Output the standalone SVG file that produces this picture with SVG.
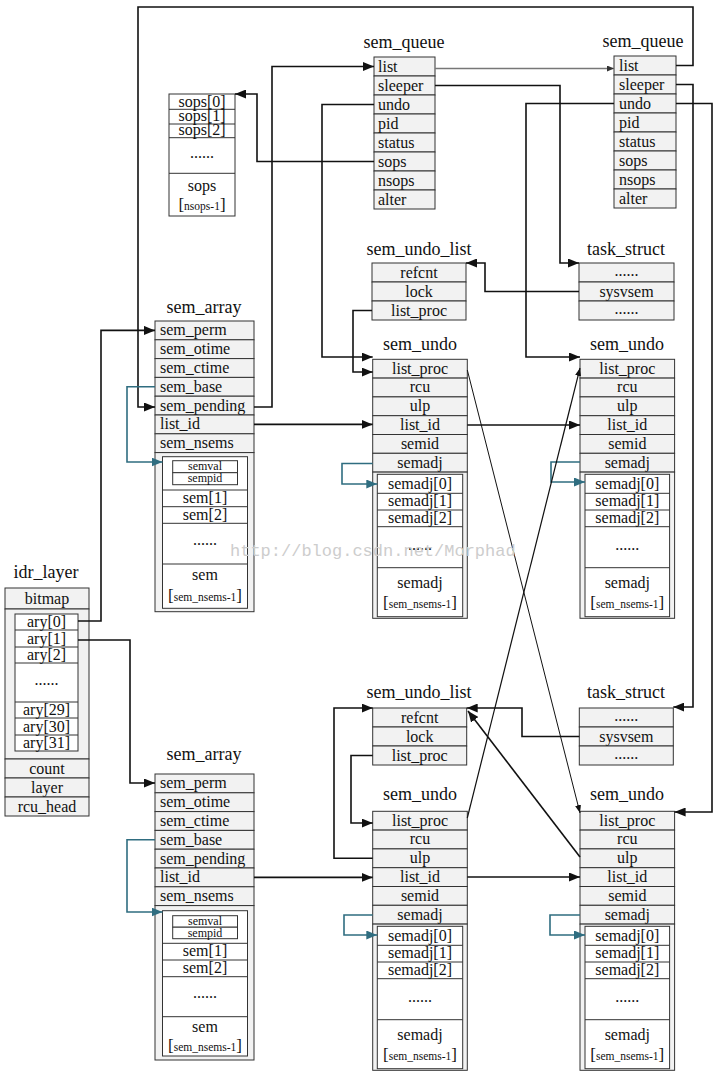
<svg xmlns="http://www.w3.org/2000/svg" width="720" height="1075" viewBox="0 0 720 1075" font-family="'Liberation Serif', serif">
<style>
.f{fill:#f2f2f2;stroke:#333;stroke-width:1}
.w{fill:#fff;stroke:#333;stroke-width:1}
.ln{fill:none;stroke:#333;stroke-width:1}
text{font-family:"Liberation Serif","Times New Roman",serif;font-size:16px;fill:#111}
.c{text-anchor:middle}
.h{font-size:18px}
.s{font-size:11.5px}
.v{font-size:12px}
.b{font-size:17px}
.k{fill:none;stroke:#111;stroke-width:1.6}
.t1{fill:none;stroke:#111;stroke-width:1}
.bl{fill:none;stroke:#2f6d80;stroke-width:1.6}
.g{fill:none;stroke:#777;stroke-width:1.3}
.wm{font-family:"Liberation Mono",monospace;font-size:17px;fill:#cdcdcd}
</style>
<defs>
<marker id="a" markerWidth="11" markerHeight="9" refX="11" refY="4.5" orient="auto" markerUnits="userSpaceOnUse"><path d="M0,0 L11,4.5 L0,9 z" fill="#111"/></marker>
<marker id="as" markerWidth="8" markerHeight="6" refX="8" refY="3" orient="auto" markerUnits="userSpaceOnUse"><path d="M0,0 L8,3 L0,6 z" fill="#111"/></marker>
<marker id="ab" markerWidth="11" markerHeight="9" refX="11" refY="4.5" orient="auto" markerUnits="userSpaceOnUse"><path d="M0,0 L11,4.5 L0,9 z" fill="#2f6d80"/></marker>
<marker id="ag" markerWidth="7" markerHeight="6" refX="7" refY="3" orient="auto" markerUnits="userSpaceOnUse"><path d="M0,0 L7,3 L0,6 z" fill="#333"/></marker>
</defs>

<!-- sem_queue 1 -->
<g id="sem_queue_1">
<text class="h c" x="404" y="48">sem_queue</text>
<rect class="f" x="374" y="57" width="61" height="19"/><text x="378" y="71.5">list</text>
<rect class="f" x="374" y="76" width="61" height="19"/><text x="378" y="90.5">sleeper</text>
<rect class="f" x="374" y="95" width="61" height="19"/><text x="378" y="109.5">undo</text>
<rect class="f" x="374" y="114" width="61" height="19"/><text x="378" y="128.5">pid</text>
<rect class="f" x="374" y="133" width="61" height="19"/><text x="378" y="147.5">status</text>
<rect class="f" x="374" y="152" width="61" height="19"/><text x="378" y="166.5">sops</text>
<rect class="f" x="374" y="171" width="61" height="19"/><text x="378" y="185.5">nsops</text>
<rect class="f" x="374" y="190" width="61" height="19"/><text x="378" y="204.5">alter</text>
</g>

<!-- sem_queue 2 -->
<g id="sem_queue_2">
<text class="h c" x="643" y="47">sem_queue</text>
<rect class="f" x="614" y="56" width="62" height="19"/><text x="619" y="70.5">list</text>
<rect class="f" x="614" y="75" width="62" height="19"/><text x="619" y="89.5">sleeper</text>
<rect class="f" x="614" y="94" width="62" height="19"/><text x="619" y="108.5">undo</text>
<rect class="f" x="614" y="113" width="62" height="19"/><text x="619" y="127.5">pid</text>
<rect class="f" x="614" y="132" width="62" height="19"/><text x="619" y="146.5">status</text>
<rect class="f" x="614" y="151" width="62" height="19"/><text x="619" y="165.5">sops</text>
<rect class="f" x="614" y="170" width="62" height="19"/><text x="619" y="184.5">nsops</text>
<rect class="f" x="614" y="189" width="62" height="19"/><text x="619" y="203.5">alter</text>
</g>

<!-- sops array -->
<g id="sops">
<rect class="w" x="169" y="94" width="66" height="122"/>
<line class="ln" x1="169" y1="109.3" x2="235" y2="109.3"/>
<line class="ln" x1="169" y1="124" x2="235" y2="124"/>
<line class="ln" x1="169" y1="137.7" x2="235" y2="137.7"/>
<line class="ln" x1="169" y1="173.3" x2="235" y2="173.3"/>
<text class="c" x="202" y="106.5">sops[0]</text>
<text class="c" x="202" y="121">sops[1]</text>
<text class="c" x="202" y="135">sops[2]</text>
<text class="c" x="202" y="158">......</text>
<text class="c" x="202" y="191">sops</text>
<text class="c" x="202" y="210"><tspan class="b">[</tspan><tspan class="s">nsops-1</tspan><tspan class="b">]</tspan></text>
</g>

<!-- sem_undo_list top -->
<g id="sem_undo_list_1">
<text class="h c" x="419" y="255">sem_undo_list</text>
<rect class="f" x="372" y="263" width="94" height="19"/><text class="c" x="419" y="277.5">refcnt</text>
<rect class="f" x="372" y="282" width="94" height="19"/><text class="c" x="419" y="296.5">lock</text>
<rect class="f" x="372" y="301" width="94" height="19"/><text class="c" x="419" y="315.5">list_proc</text>
</g>

<!-- task_struct top -->
<g id="task_struct_1">
<text class="h c" x="626" y="255">task_struct</text>
<rect class="f" x="579" y="263" width="95" height="19"/><text class="c" x="626.5" y="276">......</text>
<rect class="f" x="579" y="282" width="95" height="19"/><text class="c" x="626.5" y="296.5">sysvsem</text>
<rect class="f" x="579" y="301" width="95" height="19"/><text class="c" x="626.5" y="314">......</text>
</g>

<!-- sem_array top -->
<g id="sem_array_1">
<text class="h c" x="204" y="313">sem_array</text>
<rect class="f" x="155" y="321" width="99" height="18.8"/><text x="160" y="335.3">sem_perm</text>
<rect class="f" x="155" y="339.8" width="99" height="18.8"/><text x="160" y="354.1">sem_otime</text>
<rect class="f" x="155" y="358.6" width="99" height="18.8"/><text x="160" y="372.9">sem_ctime</text>
<rect class="f" x="155" y="377.4" width="99" height="18.8"/><text x="160" y="391.7">sem_base</text>
<rect class="f" x="155" y="396.2" width="99" height="18.8"/><text x="160" y="410.5">sem_pending</text>
<rect class="f" x="155" y="415" width="99" height="18.8"/><text x="160" y="429.3">list_id</text>
<rect class="f" x="155" y="433.8" width="99" height="18.8"/><text x="160" y="448.1">sem_nsems</text>
<rect class="f" x="155" y="452.6" width="99" height="159.1"/>
<rect class="w" x="162.5" y="456.7" width="85" height="151.6"/>
<line class="ln" x1="162.5" y1="490" x2="247.5" y2="490"/>
<line class="ln" x1="162.5" y1="506.7" x2="247.5" y2="506.7"/>
<line class="ln" x1="162.5" y1="523.3" x2="247.5" y2="523.3"/>
<line class="ln" x1="162.5" y1="564" x2="247.5" y2="564"/>
<rect class="w" x="172.7" y="460.7" width="64.8" height="12"/>
<rect class="w" x="172.7" y="472.7" width="64.8" height="12"/>
<text class="v c" x="205" y="470.3">semval</text>
<text class="v c" x="205" y="482.3">sempid</text>
<text class="c" x="205" y="503">sem[1]</text>
<text class="c" x="205" y="519.5">sem[2]</text>
<text class="c" x="205" y="545">......</text>
<text class="c" x="205" y="580">sem</text>
<text class="c" x="205" y="601"><tspan class="b">[</tspan><tspan class="s">sem_nsems-1</tspan><tspan class="b">]</tspan></text>
</g>

<!-- sem_undo top middle -->
<g id="sem_undo_1">
<text class="h c" x="420" y="350">sem_undo</text>
<rect class="f" x="372.7" y="359.3" width="94.6" height="18.8"/><text class="c" x="420" y="373.6">list_proc</text>
<rect class="f" x="372.7" y="378.1" width="94.6" height="18.8"/><text class="c" x="420" y="392.4">rcu</text>
<rect class="f" x="372.7" y="396.9" width="94.6" height="18.8"/><text class="c" x="420" y="411.2">ulp</text>
<rect class="f" x="372.7" y="415.7" width="94.6" height="18.8"/><text class="c" x="420" y="430">list_id</text>
<rect class="f" x="372.7" y="434.5" width="94.6" height="18.8"/><text class="c" x="420" y="448.8">semid</text>
<rect class="f" x="372.7" y="453.3" width="94.6" height="18.8"/><text class="c" x="420" y="467.6">semadj</text>
<rect class="f" x="372.7" y="472.1" width="94.6" height="146.2"/>
<rect class="w" x="377.3" y="474.3" width="85.4" height="142.4"/>
<line class="ln" x1="377.3" y1="493.3" x2="462.7" y2="493.3"/>
<line class="ln" x1="377.3" y1="510" x2="462.7" y2="510"/>
<line class="ln" x1="377.3" y1="526.7" x2="462.7" y2="526.7"/>
<line class="ln" x1="377.3" y1="567.7" x2="462.7" y2="567.7"/>
<text class="c" x="420" y="489">semadj[0]</text>
<text class="c" x="420" y="506">semadj[1]</text>
<text class="c" x="420" y="522.5">semadj[2]</text>
<text class="c" x="420" y="550">......</text>
<text class="c" x="420" y="588">semadj</text>
<text class="c" x="420" y="608"><tspan class="b">[</tspan><tspan class="s">sem_nsems-1</tspan><tspan class="b">]</tspan></text>
</g>

<!-- sem_undo top right -->
<g id="sem_undo_2">
<text class="h c" x="627" y="350">sem_undo</text>
<rect class="f" x="580" y="359.3" width="94.6" height="18.8"/><text class="c" x="627.3" y="373.6">list_proc</text>
<rect class="f" x="580" y="378.1" width="94.6" height="18.8"/><text class="c" x="627.3" y="392.4">rcu</text>
<rect class="f" x="580" y="396.9" width="94.6" height="18.8"/><text class="c" x="627.3" y="411.2">ulp</text>
<rect class="f" x="580" y="415.7" width="94.6" height="18.8"/><text class="c" x="627.3" y="430">list_id</text>
<rect class="f" x="580" y="434.5" width="94.6" height="18.8"/><text class="c" x="627.3" y="448.8">semid</text>
<rect class="f" x="580" y="453.3" width="94.6" height="18.8"/><text class="c" x="627.3" y="467.6">semadj</text>
<rect class="f" x="580" y="472.1" width="94.6" height="146.2"/>
<rect class="w" x="585" y="474.3" width="84.6" height="142.4"/>
<line class="ln" x1="585" y1="493.3" x2="669.6" y2="493.3"/>
<line class="ln" x1="585" y1="510" x2="669.6" y2="510"/>
<line class="ln" x1="585" y1="526.7" x2="669.6" y2="526.7"/>
<line class="ln" x1="585" y1="567.7" x2="669.6" y2="567.7"/>
<text class="c" x="627.3" y="489">semadj[0]</text>
<text class="c" x="627.3" y="506">semadj[1]</text>
<text class="c" x="627.3" y="522.5">semadj[2]</text>
<text class="c" x="627.3" y="550">......</text>
<text class="c" x="627.3" y="588">semadj</text>
<text class="c" x="627.3" y="608"><tspan class="b">[</tspan><tspan class="s">sem_nsems-1</tspan><tspan class="b">]</tspan></text>
</g>

<!-- idr_layer -->
<g id="idr_layer">
<text class="h c" x="46" y="578">idr_layer</text>
<rect class="f" x="5" y="588" width="84" height="21"/><text class="c" x="47" y="603.5">bitmap</text>
<rect class="f" x="5" y="609" width="84" height="150"/>
<rect class="w" x="15" y="614" width="63" height="137"/>
<line class="ln" x1="15" y1="630" x2="78" y2="630"/>
<line class="ln" x1="15" y1="647" x2="78" y2="647"/>
<line class="ln" x1="15" y1="663" x2="78" y2="663"/>
<line class="ln" x1="15" y1="702" x2="78" y2="702"/>
<line class="ln" x1="15" y1="718" x2="78" y2="718"/>
<line class="ln" x1="15" y1="735" x2="78" y2="735"/>
<text class="c" x="46.5" y="627">ary[0]</text>
<text class="c" x="46.5" y="644">ary[1]</text>
<text class="c" x="46.5" y="660">ary[2]</text>
<text class="c" x="46.5" y="685">......</text>
<text class="c" x="46.5" y="715">ary[29]</text>
<text class="c" x="46.5" y="731.5">ary[30]</text>
<text class="c" x="46.5" y="748">ary[31]</text>
<rect class="f" x="5" y="759" width="84" height="19"/><text class="c" x="47" y="773.5">count</text>
<rect class="f" x="5" y="778" width="84" height="19"/><text class="c" x="47" y="792.5">layer</text>
<rect class="f" x="5" y="797" width="84" height="19"/><text class="c" x="47" y="811.5">rcu_head</text>
</g>

<!-- sem_undo_list bottom -->
<g id="sem_undo_list_2">
<text class="h c" x="419" y="698">sem_undo_list</text>
<rect class="f" x="372.7" y="708" width="94" height="19"/><text class="c" x="419.7" y="722.5">refcnt</text>
<rect class="f" x="372.7" y="727" width="94" height="19"/><text class="c" x="419.7" y="741.5">lock</text>
<rect class="f" x="372.7" y="746" width="94" height="19"/><text class="c" x="419.7" y="760.5">list_proc</text>
</g>

<!-- task_struct bottom -->
<g id="task_struct_2">
<text class="h c" x="626" y="698">task_struct</text>
<rect class="f" x="579.3" y="708" width="94" height="19"/><text class="c" x="626.3" y="721">......</text>
<rect class="f" x="579.3" y="727" width="94" height="19"/><text class="c" x="626.3" y="741.5">sysvsem</text>
<rect class="f" x="579.3" y="746" width="94" height="19"/><text class="c" x="626.3" y="759">......</text>
</g>

<!-- sem_array bottom -->
<g id="sem_array_2">
<text class="h c" x="204" y="760">sem_array</text>
<rect class="f" x="155" y="774" width="99" height="18.8"/><text x="160" y="788.3">sem_perm</text>
<rect class="f" x="155" y="792.8" width="99" height="18.8"/><text x="160" y="807.1">sem_otime</text>
<rect class="f" x="155" y="811.6" width="99" height="18.8"/><text x="160" y="825.9">sem_ctime</text>
<rect class="f" x="155" y="830.4" width="99" height="18.8"/><text x="160" y="844.7">sem_base</text>
<rect class="f" x="155" y="849.2" width="99" height="18.8"/><text x="160" y="863.5">sem_pending</text>
<rect class="f" x="155" y="868" width="99" height="18.8"/><text x="160" y="882.3">list_id</text>
<rect class="f" x="155" y="886.8" width="99" height="18.8"/><text x="160" y="901.1">sem_nsems</text>
<rect class="f" x="155" y="905.6" width="99" height="154.4"/>
<rect class="w" x="162.5" y="910.7" width="85" height="145.3"/>
<line class="ln" x1="162.5" y1="943.3" x2="247.5" y2="943.3"/>
<line class="ln" x1="162.5" y1="960" x2="247.5" y2="960"/>
<line class="ln" x1="162.5" y1="976.7" x2="247.5" y2="976.7"/>
<line class="ln" x1="162.5" y1="1016.7" x2="247.5" y2="1016.7"/>
<rect class="w" x="172.7" y="915.7" width="64.8" height="11.5"/>
<rect class="w" x="172.7" y="927.2" width="64.8" height="11.5"/>
<text class="v c" x="205" y="925.1">semval</text>
<text class="v c" x="205" y="936.6">sempid</text>
<text class="c" x="205" y="956.3">sem[1]</text>
<text class="c" x="205" y="973">sem[2]</text>
<text class="c" x="205" y="998">......</text>
<text class="c" x="205" y="1032">sem</text>
<text class="c" x="205" y="1051"><tspan class="b">[</tspan><tspan class="s">sem_nsems-1</tspan><tspan class="b">]</tspan></text>
</g>

<!-- sem_undo bottom middle -->
<g id="sem_undo_3">
<text class="h c" x="420" y="800">sem_undo</text>
<rect class="f" x="372.7" y="811.3" width="94.6" height="18.8"/><text class="c" x="420" y="825.6">list_proc</text>
<rect class="f" x="372.7" y="830.1" width="94.6" height="18.8"/><text class="c" x="420" y="844.4">rcu</text>
<rect class="f" x="372.7" y="848.9" width="94.6" height="18.8"/><text class="c" x="420" y="863.2">ulp</text>
<rect class="f" x="372.7" y="867.7" width="94.6" height="18.8"/><text class="c" x="420" y="882">list_id</text>
<rect class="f" x="372.7" y="886.5" width="94.6" height="18.8"/><text class="c" x="420" y="900.8">semid</text>
<rect class="f" x="372.7" y="905.3" width="94.6" height="18.8"/><text class="c" x="420" y="919.6">semadj</text>
<rect class="f" x="372.7" y="924.1" width="94.6" height="146.2"/>
<rect class="w" x="377.3" y="926.3" width="85.4" height="142.4"/>
<line class="ln" x1="377.3" y1="945.3" x2="462.7" y2="945.3"/>
<line class="ln" x1="377.3" y1="962" x2="462.7" y2="962"/>
<line class="ln" x1="377.3" y1="978.7" x2="462.7" y2="978.7"/>
<line class="ln" x1="377.3" y1="1019.7" x2="462.7" y2="1019.7"/>
<text class="c" x="420" y="941">semadj[0]</text>
<text class="c" x="420" y="958">semadj[1]</text>
<text class="c" x="420" y="974.5">semadj[2]</text>
<text class="c" x="420" y="1002">......</text>
<text class="c" x="420" y="1040">semadj</text>
<text class="c" x="420" y="1060"><tspan class="b">[</tspan><tspan class="s">sem_nsems-1</tspan><tspan class="b">]</tspan></text>
</g>

<!-- sem_undo bottom right -->
<g id="sem_undo_4">
<text class="h c" x="627" y="800">sem_undo</text>
<rect class="f" x="580" y="811.3" width="94.6" height="18.8"/><text class="c" x="627.3" y="825.6">list_proc</text>
<rect class="f" x="580" y="830.1" width="94.6" height="18.8"/><text class="c" x="627.3" y="844.4">rcu</text>
<rect class="f" x="580" y="848.9" width="94.6" height="18.8"/><text class="c" x="627.3" y="863.2">ulp</text>
<rect class="f" x="580" y="867.7" width="94.6" height="18.8"/><text class="c" x="627.3" y="882">list_id</text>
<rect class="f" x="580" y="886.5" width="94.6" height="18.8"/><text class="c" x="627.3" y="900.8">semid</text>
<rect class="f" x="580" y="905.3" width="94.6" height="18.8"/><text class="c" x="627.3" y="919.6">semadj</text>
<rect class="f" x="580" y="924.1" width="94.6" height="146.2"/>
<rect class="w" x="585" y="926.3" width="84.6" height="142.4"/>
<line class="ln" x1="585" y1="945.3" x2="669.6" y2="945.3"/>
<line class="ln" x1="585" y1="962" x2="669.6" y2="962"/>
<line class="ln" x1="585" y1="978.7" x2="669.6" y2="978.7"/>
<line class="ln" x1="585" y1="1019.7" x2="669.6" y2="1019.7"/>
<text class="c" x="627.3" y="941">semadj[0]</text>
<text class="c" x="627.3" y="958">semadj[1]</text>
<text class="c" x="627.3" y="974.5">semadj[2]</text>
<text class="c" x="627.3" y="1002">......</text>
<text class="c" x="627.3" y="1040">semadj</text>
<text class="c" x="627.3" y="1060"><tspan class="b">[</tspan><tspan class="s">sem_nsems-1</tspan><tspan class="b">]</tspan></text>
</g>

<!-- connectors -->
<g id="connectors">
<path class="k" marker-end="url(#a)" d="M676,65.5 H693 V7 H138 V407 H155"/>
<path class="k" marker-end="url(#a)" d="M254,407 H272 V66.5 H374"/>
<path class="g" marker-end="url(#ag)" d="M435,68.5 H614"/>
<path class="k" marker-end="url(#a)" d="M435,85.5 H560 V263 H579"/>
<path class="k" marker-end="url(#a)" d="M374,104.5 H322 V357 H372.7"/>
<path class="k" marker-end="url(#a)" d="M374,161.5 H257 V94 H235"/>
<path class="k" marker-end="url(#a)" d="M579,291.5 H485 V263 H466"/>
<path class="k" marker-end="url(#a)" d="M372,310.5 H353 V372 H372.7"/>
<path class="k" marker-end="url(#a)" d="M614,103.5 H526 V357 H580"/>
<path class="k" marker-end="url(#a)" d="M676,84.5 H693 V707 H673.3"/>
<path class="k" marker-end="url(#a)" d="M676,103.5 H712 V812 H674.6"/>
<path class="k" marker-end="url(#a)" d="M254,424.4 H372.7"/>
<path class="k" marker-end="url(#a)" d="M467.3,425 H580"/>
<path class="bl" marker-end="url(#ab)" d="M155,386.8 H127 V462 H162.5"/>
<path class="bl" marker-end="url(#ab)" d="M372.7,463.5 H342 V484 H377.3"/>
<path class="bl" marker-end="url(#ab)" d="M580,462 H551 V482 H585"/>
<path class="k" marker-end="url(#a)" d="M78,621 H101 V330.4 H155"/>
<path class="k" marker-end="url(#a)" d="M78,640 H130 V783 H155"/>
<path class="bl" marker-end="url(#ab)" d="M155,839.8 H127 V912 H162.5"/>
<path class="k" marker-end="url(#a)" d="M254,877.4 H372.7"/>
<path class="k" marker-end="url(#a)" d="M467.3,877 H580"/>
<path class="k" marker-end="url(#a)" d="M579.3,736.5 H522 V708 H466.7"/>
<path class="k" marker-end="url(#a)" d="M372.7,755.5 H351 V823 H372.7"/>
<path class="k" marker-end="url(#a)" d="M372.7,858.3 H334 V708 H372.7"/>
<path class="k" marker-end="url(#a)" d="M580,857 L468,711"/>
<path class="t1" marker-end="url(#as)" d="M467.3,370 L580,813"/>
<path class="k" marker-end="url(#as)" d="M467.3,818 L580,368" style="stroke-width:1.2"/>
<path class="bl" marker-end="url(#ab)" d="M372.7,915 H344 V935 H377.3"/>
<path class="bl" marker-end="url(#ab)" d="M580,915 H550 V935 H585"/>
</g>

<text class="wm" x="230" y="556">http://blog.csdn.net/Morphad</text>
</svg>
